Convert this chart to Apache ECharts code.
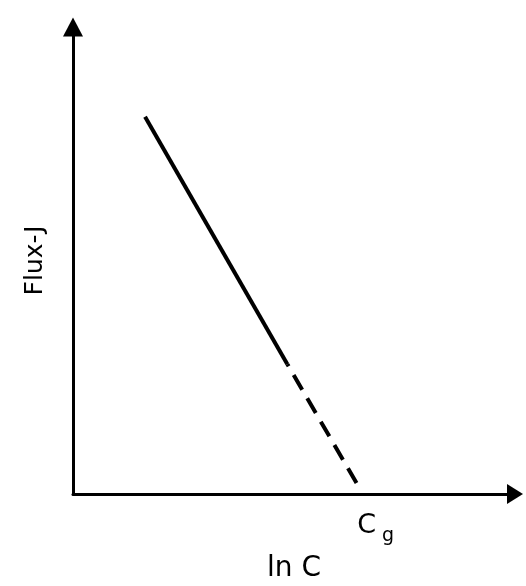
<!DOCTYPE html>
<html>
<head>
<meta charset="utf-8">
<script src="https://cdn.jsdelivr.net/npm/echarts@6/dist/echarts.min.js"></script>
<style>
  html, body { margin: 0; padding: 0; background: #fff; }
  #chart { width: 526px; height: 586px; }
</style>
</head>
<body>
<div id="chart"></div>
<script>
// both axes run on a plain 0-100 scale (no ticks shown)
const solidX = [16.3, 48.5];
const solidY = [80.8, 27.8];
const dashX = [48.5, 64.3];
const dashY = [27.8, 2.1];
const cgX = [64.3];          // where the extrapolated line meets the axis
const cgLabel = ['C', 'g'];  // C with subscript g

const zip = (xs, ys) => xs.map((x, i) => [x, ys[i]]);

const chart = echarts.init(document.getElementById('chart'), null, { renderer: 'canvas' });

const option = {
  backgroundColor: '#ffffff',
  animation: false,
  textStyle: { fontFamily: 'DejaVu Sans' },
  grid: { left: 73, right: 11, top: 27, bottom: 92, outerBoundsMode: 'none' },
  xAxis: {
    type: 'value', min: 0, max: 100,
    name: 'ln C', nameLocation: 'middle', nameGap: 61,
    nameMoveOverlap: false,
    nameTextStyle: { fontSize: 28, color: '#000', fontFamily: 'DejaVu Sans' },
    axisLine: {
      lineStyle: { color: '#000', width: 3 },
      symbol: ['none', 'triangle'], symbolSize: [20, 16]
    },
    axisTick: { show: false },
    splitLine: { show: false },
    axisLabel: {
      customValues: cgX,
      align: 'left', margin: 11,
      formatter: () => '{c|' + cgLabel[0] + '}{g|' + cgLabel[1] + '}',
      rich: {
        c: { fontSize: 27, color: '#000', fontFamily: 'DejaVu Sans', lineHeight: 30 },
        g: { fontSize: 19, color: '#000', fontFamily: 'DejaVu Sans', padding: [22, 0, 0, 6] }
      }
    }
  },
  yAxis: {
    type: 'value', min: 0, max: 100,
    name: 'Flux-J', nameLocation: 'middle', nameGap: 25,
    nameTextStyle: { fontSize: 25, color: '#000', fontFamily: 'DejaVu Sans' },
    axisLine: {
      lineStyle: { color: '#000', width: 3 },
      symbol: ['none', 'triangle'], symbolSize: [20, 19]
    },
    axisTick: { show: false },
    axisLabel: { show: false },
    splitLine: { show: false }
  },
  series: [
    {
      type: 'line', data: zip(solidX, solidY), symbol: 'none',
      lineStyle: { color: '#000', width: 4, cap: 'butt' }
    },
    {
      type: 'line', data: zip(dashX, dashY), symbol: 'none',
      lineStyle: { color: '#000', width: 4, type: [17, 10], dashOffset: 14.5, cap: 'butt' }
    }
  ]
};

chart.setOption(option);
</script>
</body>
</html>
